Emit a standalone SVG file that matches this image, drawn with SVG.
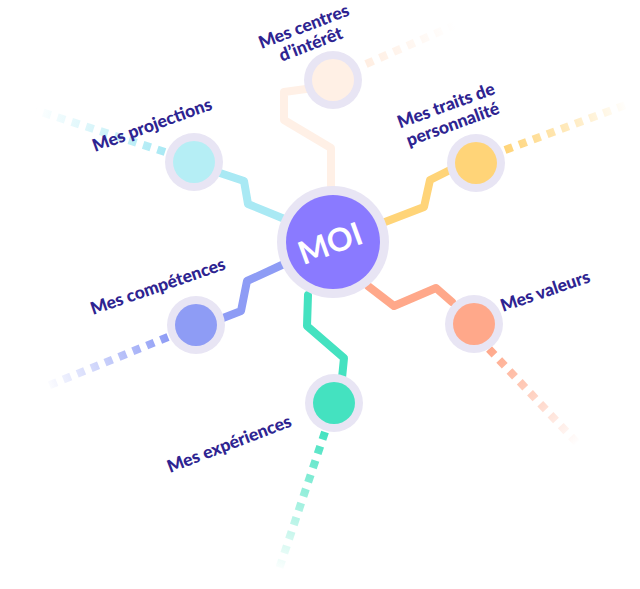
<svg xmlns="http://www.w3.org/2000/svg" width="640" height="589" viewBox="0 0 640 589">
<defs>
<style>
.ring{fill:#E8E5F4}
.lbl{font-family:"Lato","Liberation Sans",sans-serif;font-weight:900;font-size:17.5px;fill:#2E2491}
.wire{fill:none;stroke-width:8;stroke-linejoin:round;stroke-linecap:round}
.dash{fill:none;stroke-width:8;stroke-dasharray:8 7;stroke-linecap:butt}
</style>
<linearGradient id="gC" gradientUnits="userSpaceOnUse" x1="366" y1="64" x2="455" y2="25"><stop offset="0" stop-color="#FFE3CF" stop-opacity="0.6"/><stop offset="1" stop-color="#FFE3CF" stop-opacity="0"/></linearGradient>
<linearGradient id="gT" gradientUnits="userSpaceOnUse" x1="505" y1="150" x2="628" y2="104"><stop offset="0" stop-color="#FFD478" stop-opacity="1"/><stop offset="1" stop-color="#FFD478" stop-opacity="0"/></linearGradient>
<linearGradient id="gP" gradientUnits="userSpaceOnUse" x1="165" y1="152" x2="35" y2="110"><stop offset="0" stop-color="#A9E9F4" stop-opacity="1"/><stop offset="1" stop-color="#A9E9F4" stop-opacity="0"/></linearGradient>
<linearGradient id="gK" gradientUnits="userSpaceOnUse" x1="168" y1="337" x2="45" y2="387"><stop offset="0" stop-color="#8E9CF5" stop-opacity="1"/><stop offset="1" stop-color="#8E9CF5" stop-opacity="0"/></linearGradient>
<linearGradient id="gV" gradientUnits="userSpaceOnUse" x1="489" y1="349" x2="578" y2="444"><stop offset="0" stop-color="#FFA88A" stop-opacity="1"/><stop offset="1" stop-color="#FFA88A" stop-opacity="0"/></linearGradient>
<linearGradient id="gE" gradientUnits="userSpaceOnUse" x1="325" y1="432" x2="278" y2="572"><stop offset="0" stop-color="#44E2C0" stop-opacity="1"/><stop offset="1" stop-color="#44E2C0" stop-opacity="0"/></linearGradient>
</defs>
<rect width="640" height="589" fill="#FFFFFF"/>
<g id="connectors">
<path class="wire" stroke="#FFF0E6" d="M331,188 V148 L284,120 V92 L306,89"/>
<path class="wire" stroke="#FFD478" d="M385,222 L424,207 L430,180 L450,170"/>
<path class="wire" stroke="#A9E9F4" d="M220,173 L244,181 L248,204 L287,220"/>
<path class="wire" stroke="#8E9CF5" d="M223,318 L241,311 L247,281 L284,264"/>
<path class="wire" stroke="#FFA88A" d="M368,286 L394,306 L436,288 L452,302"/>
<path class="wire" stroke="#44E2C0" d="M308,295 L307,326 L344,358 L342,378"/>
<path class="dash" stroke="url(#gC)" d="M366,64 L455,25"/>
<path class="dash" stroke="url(#gT)" d="M505,150 L628,104"/>
<path class="dash" stroke="url(#gP)" d="M165,152 L35,110"/>
<path class="dash" stroke="url(#gK)" d="M168,337 L45,387"/>
<path class="dash" stroke="url(#gV)" d="M489,349 L578,444"/>
<path class="dash" stroke="url(#gE)" d="M325,432 L278,572"/>
</g>
<g id="moi">
<circle class="ring" cx="333" cy="242" r="56"/>
<circle cx="333" cy="242" r="47" fill="#8A7AFF"/>
<text transform="translate(334,254) rotate(-20)" text-anchor="middle" font-family="Lato,'Liberation Sans',sans-serif" font-weight="700" font-size="32" fill="#FFFFFF">MOI</text>
</g>
<g id="centres">
<circle class="ring" cx="333" cy="80" r="29"/>
<circle cx="333" cy="80" r="21" fill="#FFF0E5"/>
<g transform="translate(306,32) rotate(-21)"><text class="lbl" text-anchor="middle" x="0" y="0">Mes centres</text><text class="lbl" text-anchor="middle" x="0" y="19">d’intérêt</text></g>
</g>
<g id="traits">
<circle class="ring" cx="476" cy="163" r="29"/>
<circle cx="476" cy="163" r="21" fill="#FFD478"/>
<g transform="translate(448,111) rotate(-20)"><text class="lbl" text-anchor="middle" x="0" y="0">Mes traits de</text><text class="lbl" text-anchor="middle" x="0" y="20">personnalité</text></g>
</g>
<g id="projections">
<circle class="ring" cx="194" cy="162" r="29"/>
<circle cx="194" cy="162" r="21" fill="#B5EEF5"/>
<text class="lbl" transform="translate(95,152) rotate(-20)">Mes projections</text>
</g>
<g id="competences">
<circle class="ring" cx="196" cy="325" r="29"/>
<circle cx="196" cy="325" r="21" fill="#8E9CF5"/>
<text class="lbl" transform="translate(93,315) rotate(-19)">Mes compétences</text>
</g>
<g id="valeurs">
<circle class="ring" cx="474" cy="324" r="29"/>
<circle cx="474" cy="324" r="21" fill="#FFA88A"/>
<text class="lbl" transform="translate(503,312) rotate(-19)">Mes valeurs</text>
</g>
<g id="experiences">
<circle class="ring" cx="334" cy="403" r="29"/>
<circle cx="334" cy="403" r="21" fill="#44E2C0"/>
<text class="lbl" transform="translate(170,473) rotate(-21)">Mes expériences</text>
</g>
</svg>
